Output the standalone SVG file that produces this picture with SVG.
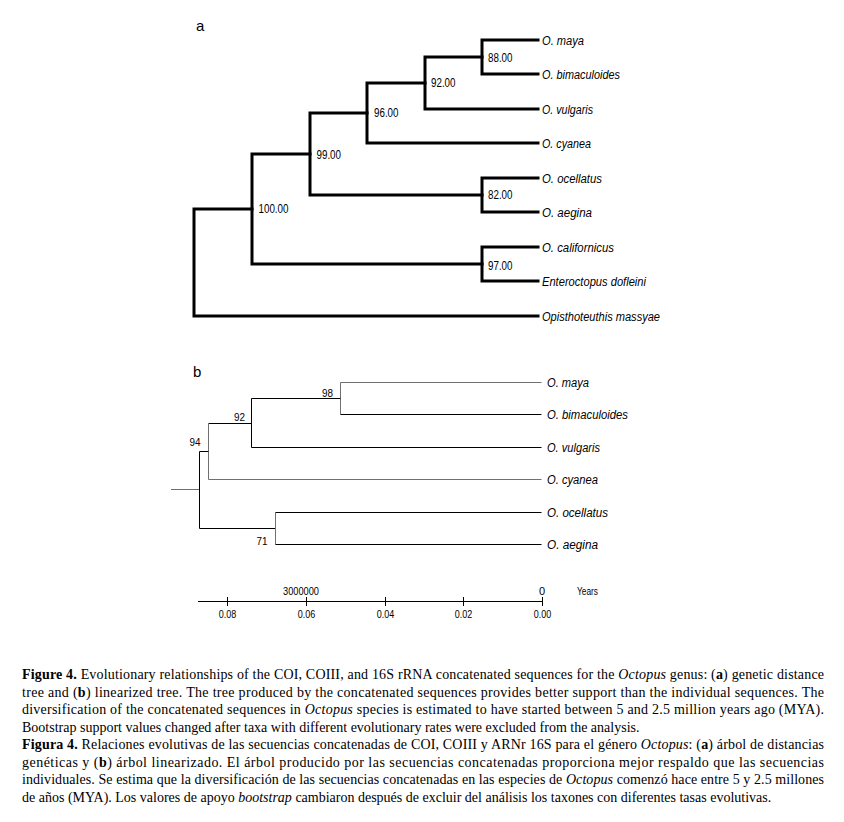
<svg xmlns="http://www.w3.org/2000/svg" width="844" height="822" viewBox="0 0 844 822">
<style>
.ea{fill:none;stroke:#000;stroke-width:3;stroke-linecap:square;stroke-linejoin:miter}
.eb{fill:none;stroke:#000;stroke-width:1}
.eg{fill:none;stroke:#707070;stroke-width:1}
.leaf{font-family:"Liberation Sans",Arial,sans-serif;font-size:12px;font-style:italic;fill:#000}
.bs{font-family:"Liberation Sans",Arial,sans-serif;font-size:12px;fill:#000}
.bsb{font-family:"Liberation Sans",Arial,sans-serif;font-size:11.5px;fill:#000}
.ax{font-family:"Liberation Sans",Arial,sans-serif;font-size:11px;fill:#000}
.pl{font-family:"Liberation Sans",Arial,sans-serif;font-size:15px;fill:#000}
.cap{font-family:"Liberation Serif","Times New Roman",serif;font-size:14px;fill:#000}
.b{font-weight:bold}
.i{font-style:italic}
</style>
<rect width="844" height="822" fill="#fff"/>

<text class="pl" x="196" y="31">a</text>
<g id="tree-a-connectors">
<path class="ea" d="M252 209 H194 V316 H538"/>
<path class="ea" d="M310 154 H252 V264 H482"/>
<path class="ea" d="M367 113 H310 V195 H482"/>
<path class="ea" d="M425 83 H367 V143 H538"/>
<path class="ea" d="M482 57 H425 V109 H538"/>
<path class="ea" d="M538 40 H482 V74 H538"/>
<path class="ea" d="M538 178 H482 V212 H538"/>
<path class="ea" d="M538 247 H482 V281 H538"/>
</g>
<g id="a-maya"><text class="leaf" x="542" y="44.5" textLength="42" lengthAdjust="spacingAndGlyphs">O. maya</text></g>
<g id="a-bimaculoides"><text class="leaf" x="542" y="78.5" textLength="78" lengthAdjust="spacingAndGlyphs">O. bimaculoides</text></g>
<g id="a-vulgaris"><text class="leaf" x="542" y="113.5" textLength="51" lengthAdjust="spacingAndGlyphs">O. vulgaris</text></g>
<g id="a-cyanea"><text class="leaf" x="542" y="147.5" textLength="49" lengthAdjust="spacingAndGlyphs">O. cyanea</text></g>
<g id="a-ocellatus"><text class="leaf" x="542" y="182.5" textLength="60" lengthAdjust="spacingAndGlyphs">O. ocellatus</text></g>
<g id="a-aegina"><text class="leaf" x="542" y="216.5" textLength="50" lengthAdjust="spacingAndGlyphs">O. aegina</text></g>
<g id="a-californicus"><text class="leaf" x="542" y="251.5" textLength="72" lengthAdjust="spacingAndGlyphs">O. californicus</text></g>
<g id="a-dofleini"><text class="leaf" x="542" y="285.5" textLength="104" lengthAdjust="spacingAndGlyphs">Enteroctopus dofleini</text></g>
<g id="a-massyae"><text class="leaf" x="542" y="320.5" textLength="118" lengthAdjust="spacingAndGlyphs">Opisthoteuthis massyae</text></g>
<g id="a-n88"><text class="bs" x="488" y="61.5" textLength="24.5" lengthAdjust="spacingAndGlyphs">88.00</text></g>
<g id="a-n92"><text class="bs" x="431" y="87" textLength="24.5" lengthAdjust="spacingAndGlyphs">92.00</text></g>
<g id="a-n96"><text class="bs" x="374" y="117" textLength="24.5" lengthAdjust="spacingAndGlyphs">96.00</text></g>
<g id="a-n99"><text class="bs" x="316.5" y="158.5" textLength="24.5" lengthAdjust="spacingAndGlyphs">99.00</text></g>
<g id="a-n100"><text class="bs" x="258.5" y="212.5" textLength="30" lengthAdjust="spacingAndGlyphs">100.00</text></g>
<g id="a-n82"><text class="bs" x="488" y="199" textLength="24.5" lengthAdjust="spacingAndGlyphs">82.00</text></g>
<g id="a-n97"><text class="bs" x="488" y="270" textLength="24.5" lengthAdjust="spacingAndGlyphs">97.00</text></g>

<text class="pl" x="193" y="377">b</text>
<g id="tree-b-connectors">
<path class="eg" d="M541.5 382.5 H340.5 V414.5"/>
<path class="eb" d="M340.5 414.5 H541.5"/>
<path class="eb" d="M340.5 398.5 H251.5 V447.5 H541.5"/>
<path class="eb" d="M251.5 423.5 H208.5"/>
<path class="eg" d="M208.5 423.5 V479.5 H541.5"/>
<path class="eg" d="M171 489.5 H199.5"/>
<path class="eb" d="M208.5 451.5 H199.5 V528.5 H275.5"/>
<path class="eg" d="M275.5 512.5 V544.5"/>
<path class="eb" d="M275.5 512.5 H541.5 M275.5 544.5 H541.5"/>
</g>
<g id="b-maya"><text class="leaf" x="547" y="386.5" textLength="42" lengthAdjust="spacingAndGlyphs">O. maya</text></g>
<g id="b-bimaculoides"><text class="leaf" x="547" y="418.5" textLength="81" lengthAdjust="spacingAndGlyphs">O. bimaculoides</text></g>
<g id="b-vulgaris"><text class="leaf" x="547" y="451.5" textLength="53" lengthAdjust="spacingAndGlyphs">O. vulgaris</text></g>
<g id="b-cyanea"><text class="leaf" x="547" y="483.5" textLength="51" lengthAdjust="spacingAndGlyphs">O. cyanea</text></g>
<g id="b-ocellatus"><text class="leaf" x="547" y="516.5" textLength="61" lengthAdjust="spacingAndGlyphs">O. ocellatus</text></g>
<g id="b-aegina"><text class="leaf" x="547" y="548.5" textLength="51" lengthAdjust="spacingAndGlyphs">O. aegina</text></g>
<g id="b-n98"><text class="bsb" x="322" y="396.5" textLength="11" lengthAdjust="spacingAndGlyphs">98</text></g>
<g id="b-n92"><text class="bsb" x="234" y="421" textLength="11" lengthAdjust="spacingAndGlyphs">92</text></g>
<g id="b-n94"><text class="bsb" x="189.5" y="446" textLength="11" lengthAdjust="spacingAndGlyphs">94</text></g>
<g id="b-n71"><text class="bsb" x="256.5" y="544.5" textLength="11" lengthAdjust="spacingAndGlyphs">71</text></g>

<g id="axis">
<path class="eb" d="M198 601.5 H542.5 M227.5 597 V606 M306.5 597 V606 M385.5 597 V606 M463.5 597 V606 M542.5 597 V606"/>
<text class="ax" x="301" y="595" text-anchor="middle" textLength="36" lengthAdjust="spacingAndGlyphs">3000000</text>
<text class="ax" x="542" y="595" text-anchor="middle">0</text>
<text class="ax" x="577" y="595" textLength="21" lengthAdjust="spacingAndGlyphs">Years</text>
<text class="ax" x="227.5" y="618" text-anchor="middle" textLength="17.5" lengthAdjust="spacingAndGlyphs">0.08</text>
<text class="ax" x="306.5" y="618" text-anchor="middle" textLength="17.5" lengthAdjust="spacingAndGlyphs">0.06</text>
<text class="ax" x="385.5" y="618" text-anchor="middle" textLength="17.5" lengthAdjust="spacingAndGlyphs">0.04</text>
<text class="ax" x="463.5" y="618" text-anchor="middle" textLength="17.5" lengthAdjust="spacingAndGlyphs">0.02</text>
<text class="ax" x="542.5" y="618" text-anchor="middle" textLength="17.5" lengthAdjust="spacingAndGlyphs">0.00</text>
</g>

<g id="caption">
<text class="cap" x="22" y="679" textLength="802" lengthAdjust="spacing"><tspan class="b">Figure 4.</tspan> Evolutionary relationships of the COI, COIII, and 16S rRNA concatenated sequences for the <tspan class="i">Octopus</tspan> genus: (<tspan class="b">a</tspan>) genetic distance</text>
<text class="cap" x="22" y="696.5" textLength="802" lengthAdjust="spacing">tree and (<tspan class="b">b</tspan>) linearized tree. The tree produced by the concatenated sequences provides better support than the individual sequences. The</text>
<text class="cap" x="22" y="714" textLength="802" lengthAdjust="spacing">diversification of the concatenated sequences in <tspan class="i">Octopus</tspan> species is estimated to have started between 5 and 2.5 million years ago (MYA).</text>
<text class="cap" x="22" y="731.5">Bootstrap support values changed after taxa with different evolutionary rates were excluded from the analysis.</text>
<text class="cap" x="22" y="749" textLength="802" lengthAdjust="spacing"><tspan class="b">Figura 4.</tspan> Relaciones evolutivas de las secuencias concatenadas de COI, COIII y ARNr 16S para el género <tspan class="i">Octopus</tspan>: (<tspan class="b">a</tspan>) árbol de distancias</text>
<text class="cap" x="22" y="766.5" textLength="802" lengthAdjust="spacing">genéticas y (<tspan class="b">b</tspan>) árbol linearizado. El árbol producido por las secuencias concatenadas proporciona mejor respaldo que las secuencias</text>
<text class="cap" x="22" y="784" textLength="802" lengthAdjust="spacing">individuales. Se estima que la diversificación de las secuencias concatenadas en las especies de <tspan class="i">Octopus</tspan> comenzó hace entre 5 y 2.5 millones</text>
<text class="cap" x="22" y="801.5">de años (MYA). Los valores de apoyo <tspan class="i">bootstrap</tspan> cambiaron después de excluir del análisis los taxones con diferentes tasas evolutivas.</text>
</g>
</svg>
